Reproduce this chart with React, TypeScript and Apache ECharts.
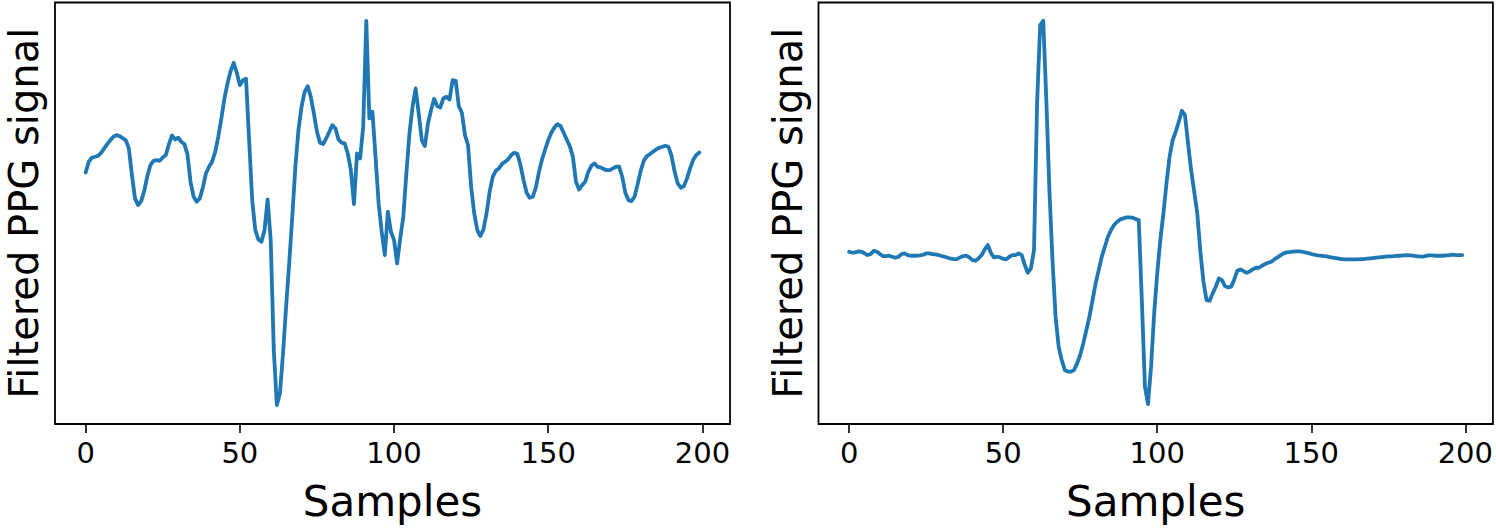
import React, { useEffect, useRef } from "react";
import * as echarts from "echarts";

// Filtered PPG signal, left panel (arbitrary units), samples 0..199
const leftSignal: number[] = [
  1.83, 2.15, 2.27, 2.30, 2.33, 2.42, 2.55, 2.68, 2.80, 2.90,
  2.95, 2.92, 2.86, 2.80, 2.55, 1.75, 1.05, 0.85, 0.97, 1.28,
  1.72, 2.05, 2.18, 2.20, 2.18, 2.28, 2.35, 2.68, 2.94, 2.82,
  2.87, 2.75, 2.68, 2.38, 1.55, 1.10, 0.95, 1.05, 1.38, 1.80,
  2.00, 2.15, 2.45, 2.90, 3.45, 4.05, 4.50, 4.87, 5.12, 4.82,
  4.45, 4.60, 4.64, 2.80, 1.00, 0.10, -0.18, -0.25, 0.10, 1.02,
  -0.20, -3.50, -5.15, -4.80, -3.60, -2.20, -0.90, 0.50, 2.00, 3.10,
  3.80, 4.25, 4.42, 4.10, 3.60, 3.05, 2.72, 2.68, 2.85, 3.05,
  3.25, 3.15, 2.82, 2.72, 2.70, 2.40, 1.90, 0.88, 2.40, 2.25,
  3.20, 6.38, 3.45, 3.65, 2.30, 0.90, 0.05, -0.65, 0.65, 0.05,
  -0.20, -0.90, -0.15, 0.50, 1.80, 3.00, 3.80, 4.35, 3.60, 2.80,
  2.62, 3.30, 3.70, 4.04, 3.82, 3.78, 4.05, 4.10, 4.02, 4.60,
  4.58, 3.82, 3.62, 2.95, 2.65, 1.40, 0.60, 0.10, -0.08, 0.12,
  0.60, 1.25, 1.70, 1.88, 1.95, 2.08, 2.15, 2.22, 2.35, 2.42,
  2.38, 2.05, 1.60, 1.22, 1.07, 1.10, 1.38, 1.85, 2.22, 2.52,
  2.80, 3.02, 3.18, 3.28, 3.22, 3.02, 2.82, 2.62, 2.30, 1.55,
  1.32, 1.45, 1.55, 1.85, 2.03, 2.10, 2.00, 1.98, 1.93, 1.90,
  1.90, 1.95, 2.00, 2.00, 1.70, 1.22, 1.00, 0.97, 1.10, 1.48,
  1.88, 2.18, 2.32, 2.38, 2.45, 2.52, 2.57, 2.60, 2.63, 2.60,
  2.32, 1.85, 1.50, 1.37, 1.42, 1.65, 1.95, 2.20, 2.35, 2.43,
];

// Filtered PPG signal, right panel (same arbitrary units)
const rightSignal: number[] = [
  -0.55, -0.58, -0.57, -0.54, -0.55, -0.60, -0.65, -0.62, -0.52, -0.55,
  -0.62, -0.68, -0.68, -0.67, -0.70, -0.73, -0.70, -0.62, -0.60, -0.65,
  -0.67, -0.67, -0.67, -0.66, -0.64, -0.60, -0.60, -0.62, -0.63, -0.65,
  -0.68, -0.70, -0.73, -0.76, -0.77, -0.77, -0.72, -0.68, -0.67, -0.72,
  -0.80, -0.82, -0.75, -0.65, -0.48, -0.35, -0.58, -0.72, -0.70, -0.72,
  -0.76, -0.78, -0.70, -0.65, -0.65, -0.60, -0.65, -0.95, -1.18, -1.05,
  -0.50, 3.90, 6.25, 6.38, 4.00, 1.30, -0.80, -2.50, -3.40, -3.80,
  -4.10, -4.15, -4.15, -4.10, -3.90, -3.65, -3.30, -2.90, -2.50, -2.00,
  -1.50, -1.10, -0.70, -0.40, -0.10, 0.10, 0.25, 0.35, 0.42, 0.45,
  0.48, 0.48, 0.47, 0.43, 0.40, -2.00, -4.60, -5.12, -4.00, -2.40,
  -1.20, -0.20, 0.60, 1.50, 2.30, 2.80, 3.05, 3.35, 3.68, 3.55,
  2.70, 1.90, 1.25, 0.60, -0.55, -1.45, -2.00, -2.02, -1.80, -1.60,
  -1.35, -1.40, -1.58, -1.62, -1.60, -1.38, -1.12, -1.08, -1.13, -1.18,
  -1.14, -1.08, -1.03, -1.03, -0.97, -0.92, -0.88, -0.85, -0.78, -0.72,
  -0.66, -0.60, -0.57, -0.56, -0.55, -0.54, -0.54, -0.55, -0.57, -0.59,
  -0.62, -0.64, -0.66, -0.67, -0.68, -0.69, -0.71, -0.73, -0.74, -0.76,
  -0.77, -0.78, -0.78, -0.78, -0.78, -0.78, -0.77, -0.77, -0.76, -0.75,
  -0.74, -0.73, -0.72, -0.71, -0.70, -0.69, -0.69, -0.68, -0.67, -0.67,
  -0.66, -0.65, -0.66, -0.67, -0.68, -0.69, -0.70, -0.68, -0.66, -0.66,
  -0.67, -0.67, -0.67, -0.67, -0.66, -0.65, -0.64, -0.65, -0.65, -0.65,
];

const xTicks: number[] = [0, 50, 100, 150, 200];
const xAxisTitle = "Samples";
const yAxisTitle = "Filtered PPG signal";

const FONT = "DejaVu Sans";
const LINE_COLOR = "#1f77b4";

function makeXAxis(gridIndex: number) {
  return {
    type: "value" as const,
    gridIndex,
    min: -9.95,
    max: 208.95,
    name: xAxisTitle,
    nameLocation: "middle" as const,
    nameGap: 56,
    nameTextStyle: { fontFamily: FONT, fontSize: 42, color: "#000" },
    axisLine: { show: false, onZero: false },
    axisTick: {
      show: true,
      inside: false,
      length: 9,
      customValues: xTicks,
      lineStyle: { color: "#000", width: 1.6 },
    },
    axisLabel: {
      show: true,
      customValues: xTicks,
      margin: 14,
      fontFamily: FONT,
      fontSize: 29,
      color: "#000",
    },
    splitLine: { show: false },
  };
}

function makeYAxis(gridIndex: number) {
  return {
    type: "value" as const,
    gridIndex,
    min: -5.72,
    max: 6.93,
    name: yAxisTitle,
    nameLocation: "middle" as const,
    nameRotate: 90,
    nameGap: 11,
    nameTextStyle: { fontFamily: FONT, fontSize: 40, lineHeight: 40, color: "#000" },
    axisLine: { show: false, onZero: false },
    axisTick: { show: false },
    axisLabel: { show: false },
    splitLine: { show: false },
  };
}

function makeSeries(values: number[], idx: number) {
  return {
    type: "line" as const,
    xAxisIndex: idx,
    yAxisIndex: idx,
    data: values.map((v, i) => [i, v]),
    showSymbol: false,
    symbol: "none",
    lineStyle: { color: LINE_COLOR, width: 3.8, join: "round", cap: "round" },
    itemStyle: { color: LINE_COLOR },
    clip: true,
    silent: true,
  };
}

export default function App() {
  const ref = useRef<HTMLDivElement | null>(null);

  useEffect(() => {
    if (!ref.current) return;
    const chart = echarts.init(ref.current, undefined, { renderer: "svg" });
    chart.setOption({
      animation: false,
      backgroundColor: "#ffffff",
      grid: [
        {
          left: 55,
          top: 2.5,
          width: 675,
          height: 421.5,
          show: true,
          borderColor: "#000",
          borderWidth: 1.8,
          backgroundColor: "transparent",
        },
        {
          left: 818.5,
          top: 2.5,
          width: 675,
          height: 421.5,
          show: true,
          borderColor: "#000",
          borderWidth: 1.8,
          backgroundColor: "transparent",
        },
      ],
      xAxis: [makeXAxis(0), makeXAxis(1)],
      yAxis: [makeYAxis(0), makeYAxis(1)],
      series: [makeSeries(leftSignal, 0), makeSeries(rightSignal, 1)],
    });
    return () => {
      chart.dispose();
    };
  }, []);

  return (
    <div
      ref={ref}
      style={{
        position: "fixed",
        left: 0,
        top: 0,
        width: 1496,
        height: 529,
        background: "#fff",
      }}
    />
  );
}
